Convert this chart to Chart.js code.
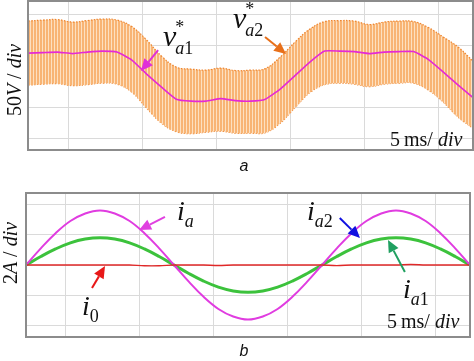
<!DOCTYPE html>
<html><head><meta charset="utf-8">
<script src="https://cdn.jsdelivr.net/npm/chart.js@4/dist/chart.umd.min.js"></script>
<style>
html,body{margin:0;padding:0;background:#fff;}
#wrap{position:relative;width:474px;height:361px;overflow:hidden;background:#fff;}
canvas{position:absolute;left:0;}
</style></head><body>
<div id="wrap">
<canvas id="c1" width="474" height="180" style="top:0"></canvas>
<canvas id="c2" width="474" height="181" style="top:180px"></canvas>
</div>
<script>
// ---------- data: panel a (voltage, 50 V/div, 5 ms/div) ----------
const timeA  = [0,1,2,3,4,5,6,7,8,9,10,11,12,13,14,15,16,17,18,19,20,21,22,23,24,25,26,27,28,29,30];
const vRef   = [37.1,37.9,38.7,36.3,38.7,40.3,38.7,25.8,3.2,-17.7,-37.1,-40.3,-40.3,-36.3,-39.5,-40.3,-37.1,-21,0.8,22.6,40.3,40.3,39.5,36.3,38.7,39.5,39.5,26.6,6.5,-14.5,-34.7];
const vUpper = [88.7,90.3,91.1,87.1,89.5,91.9,90.3,79.8,58.1,32.3,14.5,11.3,9.7,12.9,8.9,9.7,12.1,30.6,54.8,75.8,87.9,89.5,88.7,83.1,87.1,88.7,87.9,78.2,62.9,46.8,24.2];
const vLower = [-14.5,-12.9,-12.1,-15.3,-13.7,-11.3,-12.9,-25.8,-51.6,-75.8,-89.5,-92.7,-90.3,-88.7,-91.9,-91.9,-91.1,-75.8,-50.8,-26.6,-13.7,-11.3,-12.9,-16.9,-12.9,-11.3,-11.3,-22.6,-41.9,-66.1,-83.9];
// ---------- data: panel b (current, 2 A/div, 5 ms/div) ----------
const timeB = [0,1,2,3,4,5,6,7,8,9,10,11,12,13,14,15,16,17,18,19,20,21,22,23,24,25,26,27,28,29,30];
const iA    = [0,1.1,2.1,2.9,3.4,3.6,3.4,2.9,2.1,1.1,0,-1.1,-2.1,-2.9,-3.4,-3.6,-3.4,-2.9,-2.1,-1.1,0,1.1,2.1,2.9,3.4,3.6,3.4,2.9,2.1,1.1,0];
const iA1   = [0,0.56,1.06,1.46,1.71,1.8,1.71,1.46,1.06,0.56,0,-0.56,-1.06,-1.46,-1.71,-1.8,-1.71,-1.46,-1.06,-0.56,0,0.56,1.06,1.46,1.71,1.8,1.71,1.46,1.06,0.56,0];
const i0    = [0,0,0,0,0,0,0,0,-0.05,-0.05,0,0,0,-0.03,0,0,0,0,0,0,0,-0.04,0,0,0,0,0.03,0,0,0,0];
// ---------- grid / tick positions ----------
const gridTimes = [2.7,7.7,12.7,17.7,22.7,27.7];
const voltTicks = [-100,-50,0,50,100];
const currTicks = [-4,-2,0,2,4];
// ---------- annotations (data units) ----------
const topArrows = [
  {from:[8.77,41.9], to:[7.62,8.1], color:'#e02fd8'},
  {from:[15.98,62.9], to:[17.4,35.5], color:'#e8701a'}
];
const topLabels = [
  {at:[9.1,48.4], main:'v', sub:[['a',1],['1',0]]},
  {at:[13.82,77.4], main:'v', sub:[['a',1],['2',0]]}
];
const botArrows = [
  {from:[9.39,3.17], to:[7.64,2.31], color:'#e040e0'},
  {from:[4.46,-1.52], to:[5.34,-0.07], color:'#e81818'},
  {from:[21.2,3.1], to:[22.57,1.78], color:'#1010e0'},
  {from:[25.6,-0.46], to:[24.46,1.65], color:'#20a060'}
];
const botLabels = [
  {at:[10.2,2.97], main:'i', sub:[['a',1]]},
  {at:[3.78,-3.3], main:'i', sub:[['0',0]]},
  {at:[18.99,2.97], main:'i', sub:[['a',1],['2',0]]},
  {at:[25.47,-2.18], main:'i', sub:[['a',1],['1',0]]}
];

const SERIF = '"Liberation Serif","DejaVu Serif",serif';
function pts(xs, ys){ return xs.map((x,i)=>({x:x,y:ys[i]})); }
function stripe(){
  const c=document.createElement('canvas'); c.width=3; c.height=4;
  const g=c.getContext('2d');
  g.fillStyle='#f8b474'; g.fillRect(0,0,3,4);
  g.fillStyle='#fde0c0'; g.fillRect(0,0,1,4);
  return g.createPattern(c,'repeat');
}
function rich(ctx, segs, x, y, align){
  let w=0; segs.forEach(s=>{ctx.font=s.f; w+=ctx.measureText(s.t).width;});
  let cx = align==='center' ? x-w/2 : x;
  segs.forEach(s=>{ctx.font=s.f; ctx.fillText(s.t,cx,y); cx+=ctx.measureText(s.t).width;});
}
function arrow(ctx,x0,y0,x1,y1,color){
  const a=Math.atan2(y1-y0,x1-x0), L=12, W=5.5;
  const bx=x1-L*Math.cos(a), by=y1-L*Math.sin(a);
  ctx.save(); ctx.strokeStyle=color; ctx.fillStyle=color; ctx.lineWidth=2;
  ctx.beginPath(); ctx.moveTo(x0,y0); ctx.lineTo(bx,by); ctx.stroke();
  ctx.beginPath(); ctx.moveTo(x1,y1);
  ctx.lineTo(bx+W*Math.sin(a), by-W*Math.cos(a));
  ctx.lineTo(bx-W*Math.sin(a), by+W*Math.cos(a));
  ctx.closePath(); ctx.fill(); ctx.restore();
}
function symbol(ctx,x,y,main,sub,star,mainSize){
  ctx.fillStyle='#111'; ctx.textBaseline='alphabetic'; ctx.textAlign='left';
  ctx.font='italic '+mainSize+'px '+SERIF; ctx.fillText(main,x,y);
  const mw=ctx.measureText(main).width;
  if(star){ ctx.font='18px '+SERIF; ctx.fillText('*',x+mw-1,y-13); }
  let sx = x+mw-(star?1:0), sy=y+(star?8:7);
  sub.forEach(s=>{ ctx.font=(s[1]?'italic ':'')+'18px '+SERIF; ctx.fillText(s[0],sx,sy); sx+=ctx.measureText(s[0]).width; });
}
const boxPlugin = {
  id:'box',
  afterDraw(chart){
    const c=chart.ctx, a=chart.chartArea;
    c.save(); c.strokeStyle='#8c8c8c'; c.lineWidth=2;
    c.strokeRect(a.left,a.top,a.right-a.left,a.bottom-a.top); c.restore();
  }
};
function setTicks(arr){ return function(s){ s.ticks = arr.map(v=>({value:v})); }; }
function scales(xmin,xmax,ymin,ymax,yt,yw,xh){
  return {
    x:{type:'linear',min:xmin,max:xmax,afterBuildTicks:setTicks(gridTimes),
       ticks:{display:false},grid:{color:'#dadada',lineWidth:1,drawTicks:false},border:{display:false},
       afterFit(s){s.height=xh;}},
    y:{type:'linear',min:ymin,max:ymax,afterBuildTicks:setTicks(yt),
       ticks:{display:false},grid:{color:'#dadada',lineWidth:1,drawTicks:false},border:{display:false},
       afterFit(s){s.width=yw;}}
  };
}

// ---------- panel a ----------
const annA = {
  id:'annA',
  afterDraw(chart){
    const c=chart.ctx, X=chart.scales.x, Y=chart.scales.y;
    c.save();
    topArrows.forEach(a=>arrow(c,X.getPixelForValue(a.from[0]),Y.getPixelForValue(a.from[1]),X.getPixelForValue(a.to[0]),Y.getPixelForValue(a.to[1]),a.color));
    topLabels.forEach(l=>symbol(c,X.getPixelForValue(l.at[0]),Y.getPixelForValue(l.at[1]),l.main,l.sub,true,30));
    c.fillStyle='#111'; c.textBaseline='alphabetic';
    rich(c,[{t:'5\u2009ms/ ',f:'20px '+SERIF},{t:'div',f:'italic 20px '+SERIF}],390,146,'left');
    c.save(); c.translate(21,80); c.rotate(-Math.PI/2);
    rich(c,[{t:'50',f:'20px '+SERIF},{t:'V',f:'italic 20px '+SERIF},{t:' / ',f:'20px '+SERIF},{t:'div',f:'italic 20px '+SERIF}],0,0,'center');
    c.restore();
    c.font='italic 16px "Liberation Sans",Arial,sans-serif'; c.textAlign='center'; c.textBaseline='middle';
    c.fillText('a',244,167);
    c.restore();
  }
};
new Chart(document.getElementById('c1'),{
  type:'line',
  data:{datasets:[
    {data:pts(timeA,vRef),borderColor:'#e429d6',borderWidth:1.6,tension:0.15,fill:false,pointRadius:0},
    {data:pts(timeA,vUpper),borderColor:'#ee8630',borderWidth:1.2,borderDash:[1.5,1.5],tension:0.4,fill:'+1',backgroundColor:stripe(),pointRadius:0},
    {data:pts(timeA,vLower),borderColor:'#ee8630',borderWidth:1.2,borderDash:[1.5,1.5],tension:0.4,fill:false,pointRadius:0}
  ]},
  options:{responsive:false,animation:false,
    layout:{padding:{top:1,right:1,left:0,bottom:0}},
    plugins:{legend:{display:false},tooltip:{enabled:false}},
    scales:scales(0,30,-119,121,voltTicks,28,30)},
  plugins:[boxPlugin,annA]
});

// ---------- panel b ----------
const annB = {
  id:'annB',
  afterDraw(chart){
    const c=chart.ctx, X=chart.scales.x, Y=chart.scales.y;
    c.save();
    botArrows.forEach(a=>arrow(c,X.getPixelForValue(a.from[0]),Y.getPixelForValue(a.from[1]),X.getPixelForValue(a.to[0]),Y.getPixelForValue(a.to[1]),a.color));
    botLabels.forEach(l=>symbol(c,X.getPixelForValue(l.at[0]),Y.getPixelForValue(l.at[1]),l.main,l.sub,false,28));
    c.fillStyle='#111'; c.textBaseline='alphabetic';
    rich(c,[{t:'5\u2009ms/ ',f:'20px '+SERIF},{t:'div',f:'italic 20px '+SERIF}],387,148,'left');
    c.save(); c.translate(17,73); c.rotate(-Math.PI/2);
    rich(c,[{t:'2',f:'20px '+SERIF},{t:'A',f:'italic 20px '+SERIF},{t:' / ',f:'20px '+SERIF},{t:'div',f:'italic 20px '+SERIF}],0,0,'center');
    c.restore();
    c.font='italic 16px "Liberation Sans",Arial,sans-serif'; c.textAlign='center'; c.textBaseline='middle';
    c.fillText('b',244,172);
    c.restore();
  }
};
new Chart(document.getElementById('c2'),{
  type:'line',
  data:{datasets:[
    {data:pts(timeB,i0),borderColor:'#e02828',borderWidth:1.4,tension:0.3,fill:false,pointRadius:0},
    {data:pts(timeB,iA),borderColor:'#e03ce0',borderWidth:2,tension:0.4,fill:false,pointRadius:0},
    {data:pts(timeB,iA1),borderColor:'#3cc23c',borderWidth:3,tension:0.4,fill:false,pointRadius:0}
  ]},
  options:{responsive:false,animation:false,
    layout:{padding:{top:13,right:4,left:0,bottom:0}},
    plugins:{legend:{display:false},tooltip:{enabled:false}},
    scales:scales(0,30,-4.75,4.75,currTicks,26,24)},
  plugins:[boxPlugin,annB]
});
</script>
</body></html>
